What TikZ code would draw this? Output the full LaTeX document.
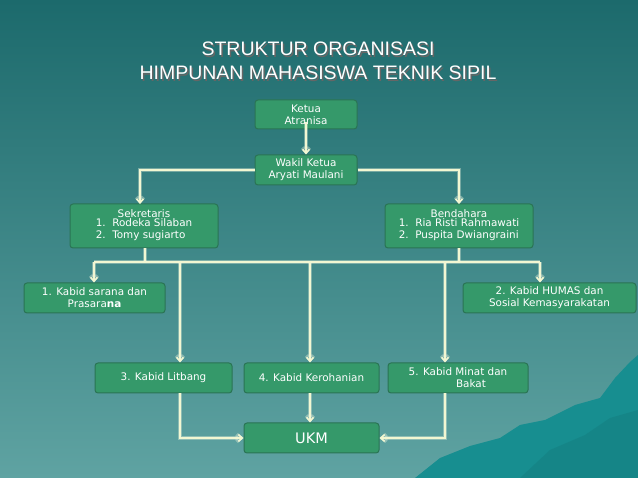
\documentclass[tikz,border=0pt]{standalone}
\usepackage{fontspec}
\setmainfont{DejaVu Sans}
\newfontfamily\titlefont{Liberation Sans}
\usetikzlibrary{arrows.meta,calc}
\definecolor{boxfill}{HTML}{35996A}
\definecolor{boxline}{HTML}{2A7454}
\definecolor{glow}{HTML}{F2F7D2}
\definecolor{bgtop}{HTML}{1C6A6C}
\definecolor{bgbot}{HTML}{5FA3A2}
\definecolor{mount}{HTML}{178E90}
\tikzset{
  org/.style={draw=boxline, line width=1pt, fill=boxfill, text=white, rounded corners=3pt, font=\fontsize{10.4}{12}\selectfont, align=center, inner sep=0pt},
  link/.style={draw=glow, line width=1.6pt, preaction={draw=glow!60!white, opacity=0.35, line width=4pt}},
  arr/.style={link, -{Straight Barb[length=4pt,width=7pt]}},
  ttl/.style={font=\titlefont\fontsize{19.5}{23}\selectfont, inner sep=0pt},
}
\begin{document}
\begin{tikzpicture}[x=1pt,y=-1pt]
\useasboundingbox (0,0) rectangle (638,478);
\shade[top color=bgtop, bottom color=bgbot] (0,0) rectangle (638,478);
\fill[mount] (415,478) -- (440,458) -- (470,446) -- (500,438) -- (520,425) -- (545,420) -- (575,405) -- (600,398) -- (615,378) -- (630,362) -- (638,355) -- (638,478) -- cycle;
\fill[mount!80!black, opacity=0.3] (520,478) -- (550,450) -- (585,435) -- (610,418) -- (638,410) -- (638,478) -- cycle;
% title
\node (t1s) [ttl, text=black!60] at (319.5,50.5) {STRUKTUR ORGANISASI};
\node (t1) [ttl, text=white] at (318,49) {STRUKTUR ORGANISASI};
\node (t2s) [ttl, text=black!60] at (319.5,74.5) {HIMPUNAN MAHASISWA TEKNIK SIPIL};
\node (t2) [ttl, text=white] at (318,73) {HIMPUNAN MAHASISWA TEKNIK SIPIL};
% nodes
\node (ketua) [org, minimum width=102pt, minimum height=29pt] at (306,114.5) {Ketua\\Atranisa};
\node (wakil) [org, minimum width=102pt, minimum height=30pt] at (306,170) {Wakil Ketua\\Aryati Maulani};
\node (sek) [org, minimum width=148pt, minimum height=44pt] at (144,226) {Sekretaris\\[-1pt]\begin{tabular}{@{}l@{}}1.\ \ Rodeka Silaban\\2.\ \ Tomy sugiarto\end{tabular}};
\node (ben) [org, minimum width=148pt, minimum height=44pt] at (459,226) {Bendahara\\[-1pt]\begin{tabular}{@{}l@{}}1.\ \ Ria Risti Rahmawati\\2.\ \ Puspita Dwiangraini\end{tabular}};
\node (k1) [org, minimum width=141pt, minimum height=30pt] at (94.5,298) {1. Kabid sarana dan\\Prasara\textbf{na}};
\node (k2) [org, minimum width=173pt, minimum height=30pt] at (549.5,298) {2. Kabid HUMAS dan\\Sosial Kemasyarakatan};
\node (k3) [org, minimum width=137pt, minimum height=30pt] at (163.5,378) {3. Kabid Litbang};
\node (k4) [org, minimum width=135pt, minimum height=30pt] at (311.5,378) {4. Kabid Kerohanian};
\node (k5) [org, minimum width=140pt, minimum height=30pt] at (458,378) {5. Kabid Minat dan\\\hspace*{2.5em}Bakat};
\node (ukm) [org, minimum width=135pt, minimum height=30pt, font=\fontsize{14.5}{16}\selectfont] at (311.5,438) {UKM};
% connectors
\coordinate (bl) at (94,262);
\coordinate (br) at (540,262);
\draw[arr] (ketua.center |- 0,122) -- (wakil.north);
\draw[arr] (wakil.west) -| (140,204);
\draw[arr] (wakil.east) -| (459,204);
\draw[link] (bl) -- (br);
\draw[link] (sek.south -| 145,0) -- (145,262);
\draw[link] (ben.south) -- (459,262);
\draw[arr] (bl) -- (k1.north -| bl);
\draw[arr] (br) -- (k2.north -| br);
\draw[arr] (180,262) -- (k3.north -| 180,0);
\draw[arr] (310,262) -- (k4.north -| 310,0);
\draw[arr] (445,262) -- (k5.north -| 445,0);
\draw[arr] (k3.south -| 180,0) |- (ukm.west);
\draw[arr] (k4.south -| 310,0) -- (ukm.north -| 310,0);
\draw[arr] (k5.south -| 445,0) |- (ukm.east);
\end{tikzpicture}
\end{document}
